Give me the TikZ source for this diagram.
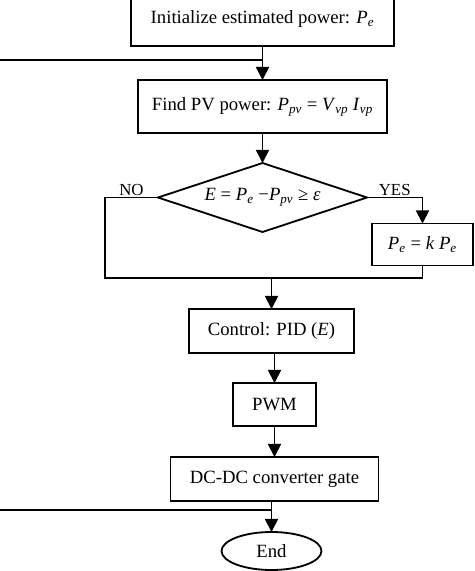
\documentclass[tikz,border=0pt]{standalone}
\usepackage{fontspec}
\setmainfont{Liberation Serif}
\usepackage{tikz}
\usetikzlibrary{shapes.geometric, arrows.meta, positioning, calc}
\newcommand{\vsub}[1]{\textsubscript{\textit{#1}}}

\begin{document}
\begin{tikzpicture}[
  node distance=0.75cm,
  process/.style={rectangle, draw=black, line width=1.3pt, text centered, inner sep=0pt, outer sep=0pt, font=\fontsize{13.3}{15}\selectfont},
  decision/.style={diamond, aspect=3, draw=black, line width=1.3pt, minimum width=5.225cm, minimum height=1.725cm, inner sep=0pt, outer sep=0pt, text centered, font=\fontsize{13.3}{15}\selectfont},
  terminal/.style={ellipse, draw=black, line width=1.3pt, minimum width=2.5cm, minimum height=0.95cm, inner sep=0pt, outer sep=0pt, text centered, font=\fontsize{13.3}{15}\selectfont},
  arrow/.style={line width=1.3pt, -{Triangle[length=0.33cm, width=0.33cm]}},
  line/.style={line width=1.3pt},
  answer/.style={font=\fontsize{12}{14}\selectfont, anchor=south, inner sep=1pt}
]
\useasboundingbox (0,0) rectangle (11.85,-14.275);

% Nodes
\node (init) [process, minimum width=6.575cm, minimum height=1.35cm] at (6.5625,-0.475) {Initialize estimated power: \textit{P}\vsub{e}};
\node (find) [process, minimum width=6.225cm, minimum height=1.325cm, below=0.85cm of init] {Find PV power: \textit{P}\vsub{pv} = \textit{V}\vsub{vp} \textit{I}\vsub{vp}};
\node (dia) [decision, below=0.75cm of find] {\textit{E} = \textit{P}\vsub{e} −\textit{P}\vsub{pv} ≥ \textit{ε}};
\node (pe) [process, minimum width=2.525cm, minimum height=1.05cm, anchor=north west, below right=0.65cm and 0.125cm of dia.east] {\textit{P}\vsub{e} = \textit{k} \textit{P}\vsub{e}};
\node (ctrl) [process, minimum width=4.125cm, minimum height=1.1cm, below=1.925cm of dia, xshift=0.225cm] {Control: PID (\textit{E})};
\node (pwm) [process, minimum width=2.075cm, minimum height=1.075cm, below=0.75cm of ctrl, xshift=0.075cm] {PWM};
\node (dc) [process, minimum width=5.2cm, minimum height=1.1cm, below=0.775cm of pwm] {DC-DC converter gate};
\node (stop) [terminal, below=0.775cm of dc, xshift=-0.075cm] {End};

% Helper points
\coordinate (loopin) at (0,-1.5);
\coordinate (loopout) at (0,-12.75);
\coordinate (noturn) at ($(dia.west)+(-1.325,0)$);
\coordinate (merge) at ($(ctrl.north)+(0,0.775)$);

% Arrows
\draw [arrow] (init.south) -- (find.north);
\draw [line] (loopin) -- (loopin -| init.south);
\draw [arrow] (find.south) -- (dia.north);
\draw [arrow] (dia.east) -| node[answer, pos=0.25] {YES} (pe.north);
\draw [line] (dia.west) -- node[answer] {NO} (noturn) |- (merge);
\draw [line] (pe.south) |- (merge);
\draw [arrow] (merge) -- (ctrl.north);
\draw [arrow] (pwm.north |- ctrl.south) -- (pwm.north);
\draw [arrow] (pwm.south) -- (dc.north);
\draw [arrow] (stop.north |- dc.south) -- (stop.north);
\draw [line] (loopout) -- (loopout -| stop.north);

\end{tikzpicture}
\end{document}
